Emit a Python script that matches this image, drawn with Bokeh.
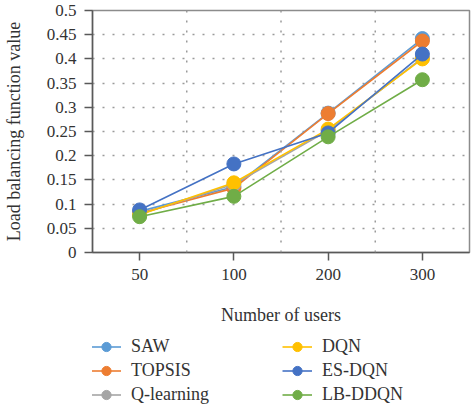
from bokeh.plotting import figure
from bokeh.layouts import column
from bokeh.models import FactorRange, Range1d, FixedTicker, Span, Legend, LegendItem
from bokeh.embed import file_html
from bokeh.resources import INLINE

# Load balancing function value per method, by number of users
users = ["50", "100", "200", "300"]
saw = [0.085, 0.136, 0.288, 0.442]
topsis = [0.081, 0.133, 0.287, 0.437]
q_learning = [0.079, 0.141, 0.252, 0.402]
dqn = [0.078, 0.144, 0.255, 0.400]
es_dqn = [0.088, 0.183, 0.247, 0.410]
lb_ddqn = [0.074, 0.116, 0.239, 0.357]

y_ticks = [0, 0.05, 0.1, 0.15, 0.2, 0.25, 0.3, 0.35, 0.4, 0.45, 0.5]
y_tick_labels = ["0", "0.05", "0.1", "0.15", "0.2", "0.25", "0.3", "0.35", "0.4", "0.45", "0.5"]

series = [
    ("SAW", saw, "#5B9BD5"),
    ("TOPSIS", topsis, "#ED7D31"),
    ("Q-learning", q_learning, "#A5A5A5"),
    ("DQN", dqn, "#FFC000"),
    ("ES-DQN", es_dqn, "#4472C4"),
    ("LB-DDQN", lb_ddqn, "#70AD47"),
]

FONT = "Liberation Serif"
TEXT = "#333333"

p = figure(
    width=474, height=330,
    x_range=FactorRange(*users, range_padding=0),
    y_range=Range1d(0, 0.5),
    output_backend="svg", toolbar_location=None,
    min_border_left=91, min_border_right=5, min_border_top=10, min_border_bottom=78,
)
p.background_fill_color = "white"
p.border_fill_color = "white"
p.outline_line_color = "#8c8c8c"
p.outline_line_width = 1.5

# dotted grid: horizontal at every y tick, vertical between user groups
p.xgrid.grid_line_color = None
p.ygrid.ticker = FixedTicker(ticks=y_ticks[1:-1])
p.ygrid.grid_line_color = "#9a9a9a"
p.ygrid.grid_line_dash = "2 8"
p.ygrid.grid_line_width = 1.5
for boundary in (1, 2, 3):
    p.add_layout(Span(location=boundary, dimension="height", line_color="#9a9a9a",
                      line_dash="2 8", line_width=1.5))

# axes
p.yaxis.ticker = FixedTicker(ticks=y_ticks)
p.yaxis.major_label_overrides = {t: s for t, s in zip(y_ticks, y_tick_labels)}
for ax in (p.xaxis[0], p.yaxis[0]):
    ax.axis_line_color = "#595959"
    ax.axis_line_width = 1.5
    ax.major_tick_line_color = "#595959"
    ax.major_tick_line_width = 1.5
    ax.major_tick_in = 0
    ax.major_tick_out = 8
    ax.minor_tick_line_color = None
    ax.major_label_standoff = 8
    ax.major_label_text_font = FONT
    ax.major_label_text_font_size = "17px"
    ax.major_label_text_color = TEXT
    ax.axis_label_text_font = FONT
    ax.axis_label_text_font_size = "18px"
    ax.axis_label_text_font_style = "normal"
    ax.axis_label_text_color = TEXT

p.xaxis.axis_label = "Number of users"
p.xaxis.axis_label_standoff = 22
p.yaxis.axis_label = "Load balancing function value"
p.yaxis.axis_label_standoff = 20

for name, vals, color in series:
    p.line(users, vals, line_color=color, line_width=1.6)
    p.scatter(users, vals, size=14, fill_color=color, line_color=color)

# legend strip under the chart: same series, drawn outside its visible y range
leg = figure(
    width=474, height=78,
    x_range=FactorRange(*users), y_range=Range1d(10, 11),
    output_backend="svg", toolbar_location=None,
    min_border=0, outline_line_color=None,
)
leg.axis.visible = False
leg.grid.visible = False
items = []
for name, vals, color in series:
    ln = leg.line(users, vals, line_color=color, line_width=1.6)
    sc = leg.scatter(users, vals, size=11, fill_color=color, line_color=color)
    items.append(LegendItem(label=name, renderers=[ln, sc]))

# the strip's frame lines up with the chart frame, so x is relative to it
legend = Legend(
    items=items, orientation="vertical", nrows=3,
    location=(-1, 2), margin=0, padding=0, spacing=1,
    glyph_width=30, glyph_height=23, label_height=23, label_width=150,
    label_standoff=10,
    label_text_font=FONT, label_text_font_size="18px", label_text_color=TEXT,
    border_line_color=None, background_fill_alpha=0,
)
leg.add_layout(legend, "center")

open("out.html", "w").write(file_html(column(p, leg, spacing=0), INLINE))
